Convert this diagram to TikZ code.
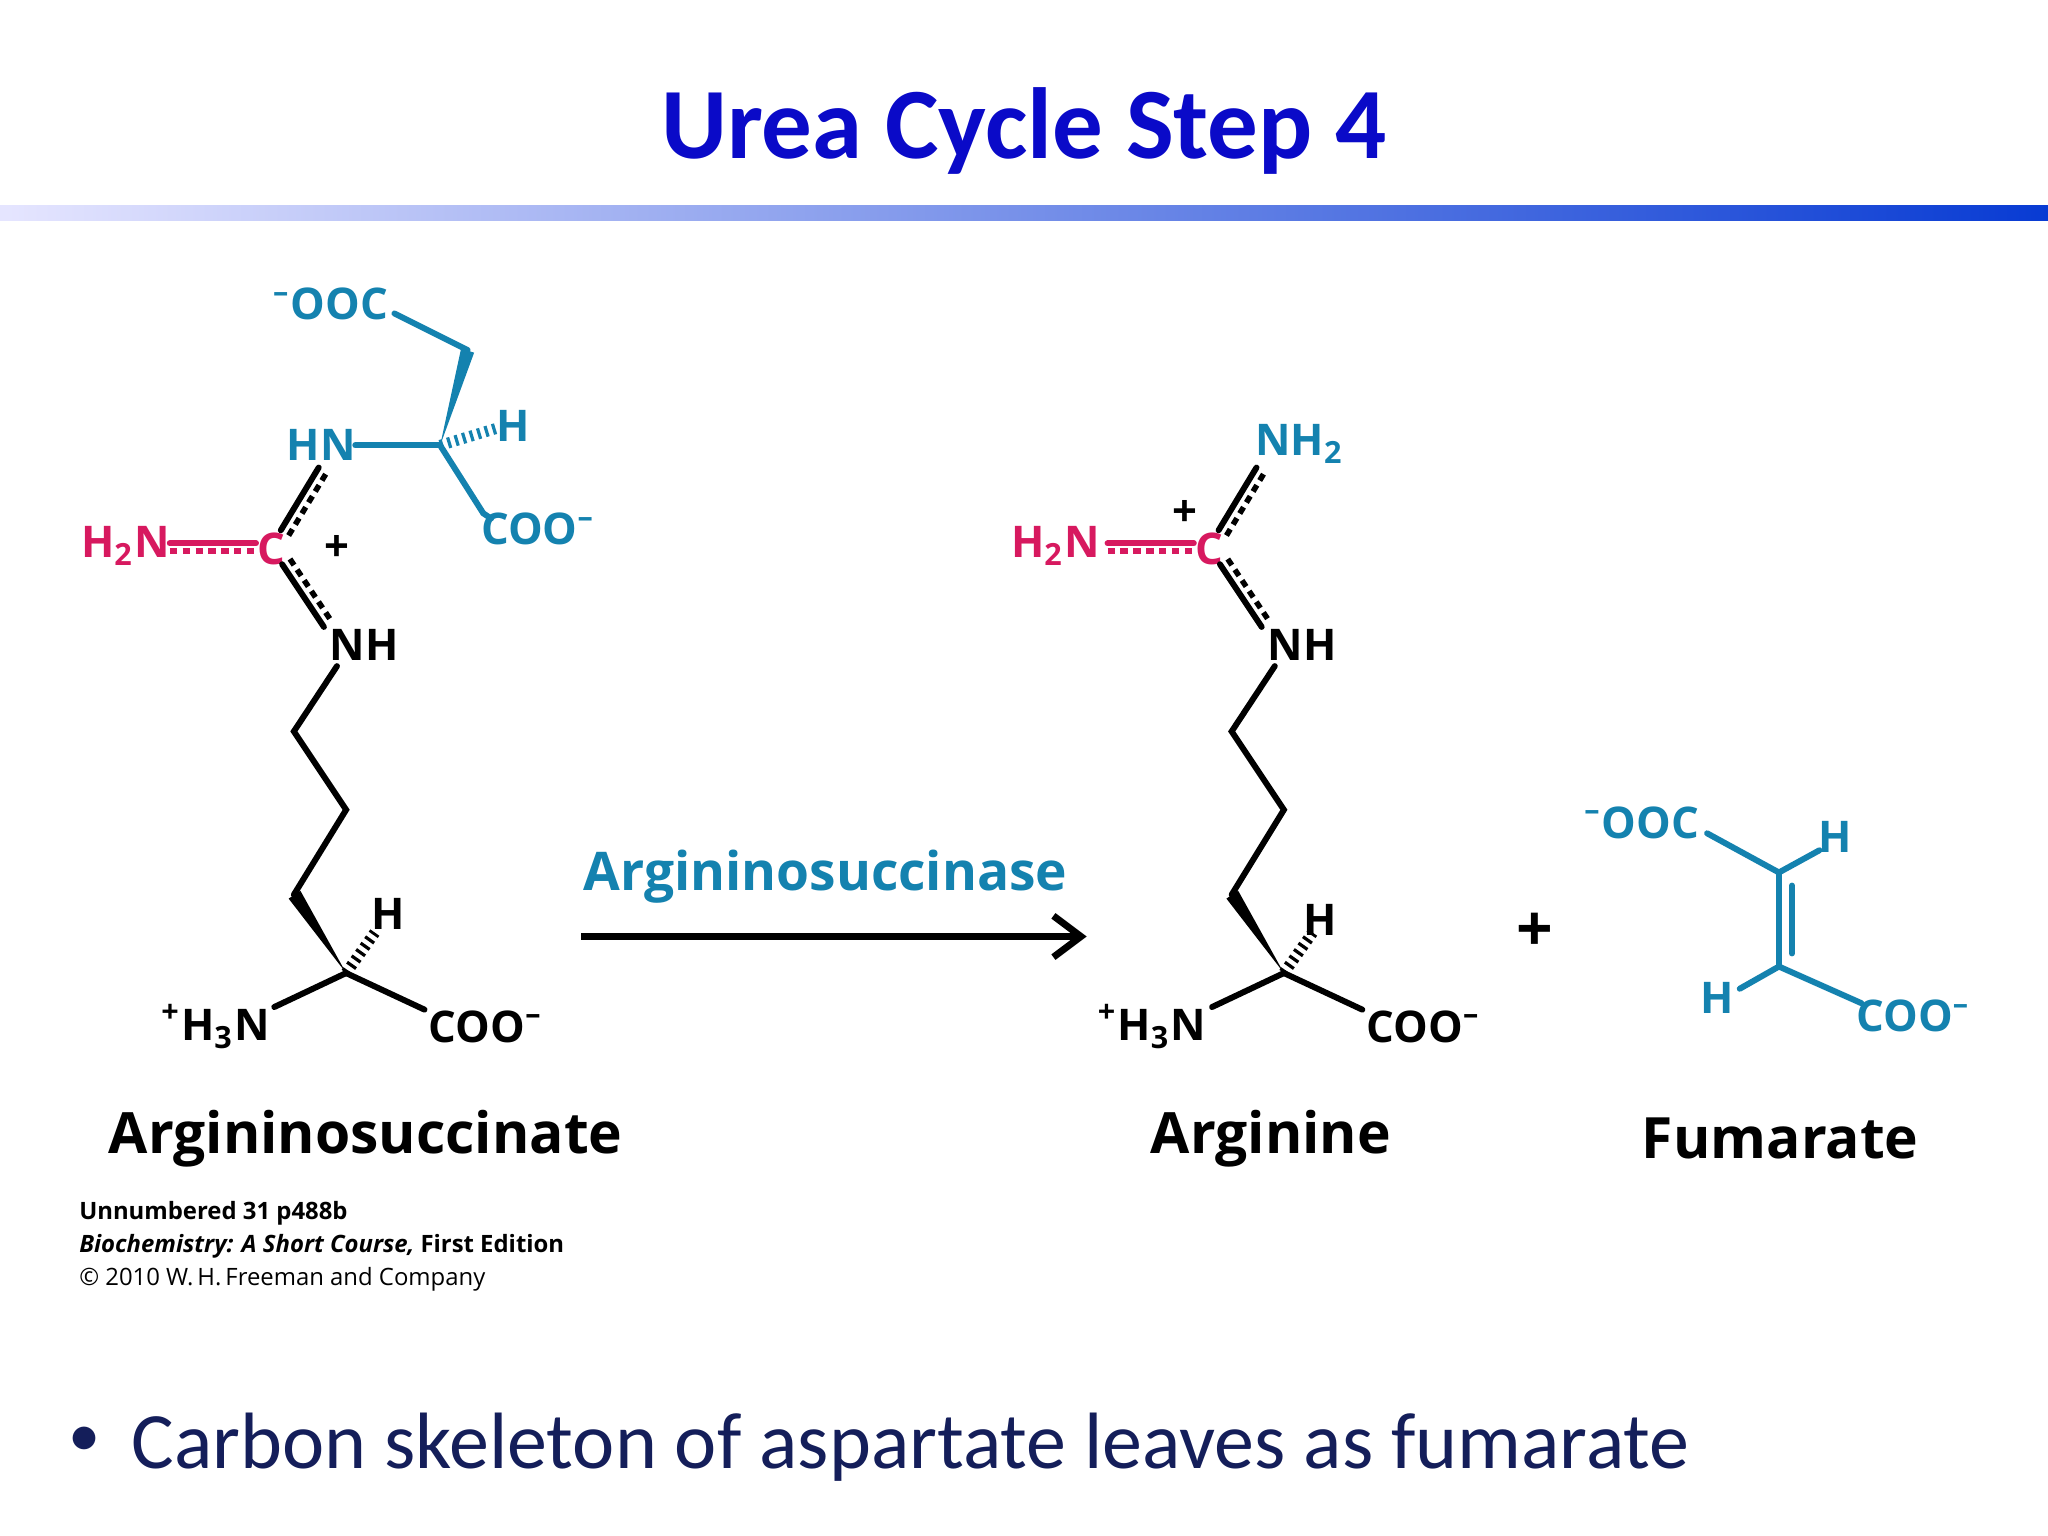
\documentclass[tikz,border=0pt]{standalone}
\usepackage{fontspec}
\setmainfont{Carlito}
\newfontfamily\chem{Open Sans}
\usetikzlibrary{calc,arrows.meta}
\definecolor{ttl}{RGB}{10,10,200}
\definecolor{teal}{RGB}{20,130,175}
\definecolor{mag}{RGB}{215,25,95}
\definecolor{navy}{RGB}{20,30,90}
\tikzset{
 bond/.style={line width=1.3pt,line cap=round},
 dbond/.style={line width=1.2pt,dash pattern=on 1.6pt off 1.2pt},
 hash/.style={line width=2.4pt,dash pattern=on 0.7pt off 1pt},
 atom/.style={font=\chem\bfseries\fontsize{9.5}{12}\selectfont,inner sep=0pt},
 big/.style={font=\chem\bfseries\fontsize{12.4}{15}\selectfont,inner sep=0pt},
}
\newcommand{\mn}{\textsuperscript{\textbf{–}}}
\newcommand{\pl}{\textsuperscript{\textbf{+}}}
\begin{document}
\begin{tikzpicture}[x=0.01cm,y=-0.01cm]
\useasboundingbox (0,0) rectangle (1568,1176);
\fill[white] (0,0) rectangle (1568,1176);
\node[font=\bfseries\fontsize{22}{26}\selectfont,text=ttl] (title) at (784,100) {Urea Cycle Step 4};
\shade[left color=blue!10,right color=ttl!80!cyan] (0,157) rectangle (1568,169);
% Argininosuccinate
\node[atom,text=teal] (ooc1) at (253,233) {\mn OOC};
\node[atom,text=teal] (hn1) at (246,341) {HN};
\node[atom,text=teal] (h1) at (393,326) {H};
\node[atom,text=teal] (coo1) at (412,405) {COO\mn};
\node[atom,text=mag] (h2n1) at (96,418) {H\textsubscript{2}N};
\node[atom,text=mag] (c1) at (208,420) {C};
\node[atom] (p1) at (258,420) {+};
\node[atom] (nh1) at (279,494) {NH};
\node[atom] (hb1) at (297,700) {H};
\node[atom] (h3n1) at (165,786) {\pl H\textsubscript{3}N};
\node[atom] (cooa1) at (372,786) {COO\mn};
\node[big] (lab1) at (280,872) {Argininosuccinate};
\node[align=left,anchor=north west,font=\chem\fontsize{5.2}{7.2}\selectfont,inner sep=0pt] (cite) at (60,919)
 {\textbf{Unnumbered 31 p488b}\\\textbf{\itshape Biochemistry: A Short Course,} \textbf{First Edition}\\© 2010 W.\,H.\,Freeman and Company};
\coordinate (a1) at (302,240); \coordinate (a2) at (358,268); \coordinate (ca) at (337,341);
\draw[bond,teal] (a1)--(a2);
\fill[teal] (ca)--(353,267)--(363,270)--cycle;
\draw[bond,teal] (272,341)--(ca);
\draw[hash,teal] (ca)--(380,328);
\draw[bond,teal] (ca)--(370,393)--(376,397);
\draw[bond,mag] (130,416)--(196,416); \draw[dbond,mag] (130,422)--(196,422);
\draw[bond] (215,406)--(244,358); \draw[dbond] (221,410)--(250,362);
\draw[bond] (216,432)--(248,480); \draw[dbond] (222,428)--(254,476);
\coordinate (b1) at (225,560); \coordinate (b2) at (265,620); \coordinate (b3) at (225,685); \coordinate (cb) at (265,745);
\draw[bond] (258,510)--(b1)--(b2)--(b3);
\fill (cb)--(221,688)--(230,682)--cycle;
\draw[hash] (cb)--(287,714);
\draw[bond] (cb)--(210,771); \draw[bond] (cb)--(325,773);
% arrow
\coordinate (ar1) at (445,717); \coordinate (ar2) at (832,717);
\draw[line width=1.5pt,-{Straight Barb[length=6pt,width=9pt]}] (ar1)--(ar2);
\node[atom,text=teal,font=\chem\bfseries\fontsize{11.6}{14}\selectfont] (enz) at (632,671) {Argininosuccinase};
% Arginine
\node[atom,text=teal] (nh2) at (995,340) {NH\textsubscript{2}};
\node[atom,text=mag] (h2n2) at (808,418) {H\textsubscript{2}N};
\node[atom,text=mag] (c2) at (926,420) {C};
\node[atom] (p2) at (907,393) {+};
\node[atom] (nh3) at (997,494) {NH};
\node[atom] (hb2) at (1011,704) {H};
\node[atom] (h3n2) at (882,786) {\pl H\textsubscript{3}N};
\node[atom] (cooa2) at (1090,786) {COO\mn};
\node[big] (lab2) at (973,872) {Arginine};
\draw[bond,mag] (848,416)--(914,416); \draw[dbond,mag] (848,422)--(914,422);
\draw[bond] (933,406)--(962,358); \draw[dbond] (939,410)--(968,362);
\draw[bond] (934,432)--(966,480); \draw[dbond] (940,428)--(972,476);
\coordinate (d1) at (943,560); \coordinate (d2) at (983,620); \coordinate (d3) at (943,685); \coordinate (cd) at (983,745);
\draw[bond] (976,510)--(d1)--(d2)--(d3);
\fill (cd)--(939,688)--(948,682)--cycle;
\draw[hash] (cd)--(1005,714);
\draw[bond] (cd)--(928,771); \draw[bond] (cd)--(1043,773);
\node[atom,font=\chem\bfseries\fontsize{14}{14}\selectfont] (plus) at (1175,714) {+};
% Fumarate
\node[atom,text=teal] (ooc3) at (1257,630) {\mn OOC};
\node[atom,text=teal] (hf1) at (1405,641) {H};
\node[atom,text=teal] (hf2) at (1315,764) {H};
\node[atom,text=teal] (coo3) at (1465,778) {COO\mn};
\coordinate (f1) at (1362,668); \coordinate (f2) at (1362,740);
\draw[bond,teal] (1307,638)--(f1)--(1393,651);
\draw[bond,teal] (f1)--(f2); \draw[bond,teal] (1372,678)--(1372,730);
\draw[bond,teal] (f2)--(1332,757); \draw[bond,teal] (f2)--(1425,768);
\node[big] (lab3) at (1363,872) {Fumarate};
% bullet
\node[font=\fontsize{14}{20}\selectfont,text=navy,anchor=west] (bul) at (40,1104) {•};
\node[font=\fontsize{17.4}{20}\selectfont,text=navy,anchor=west,inner sep=0pt] (txt) at (100,1108) {Carbon skeleton of aspartate leaves as fumarate};
\end{tikzpicture}
\end{document}
